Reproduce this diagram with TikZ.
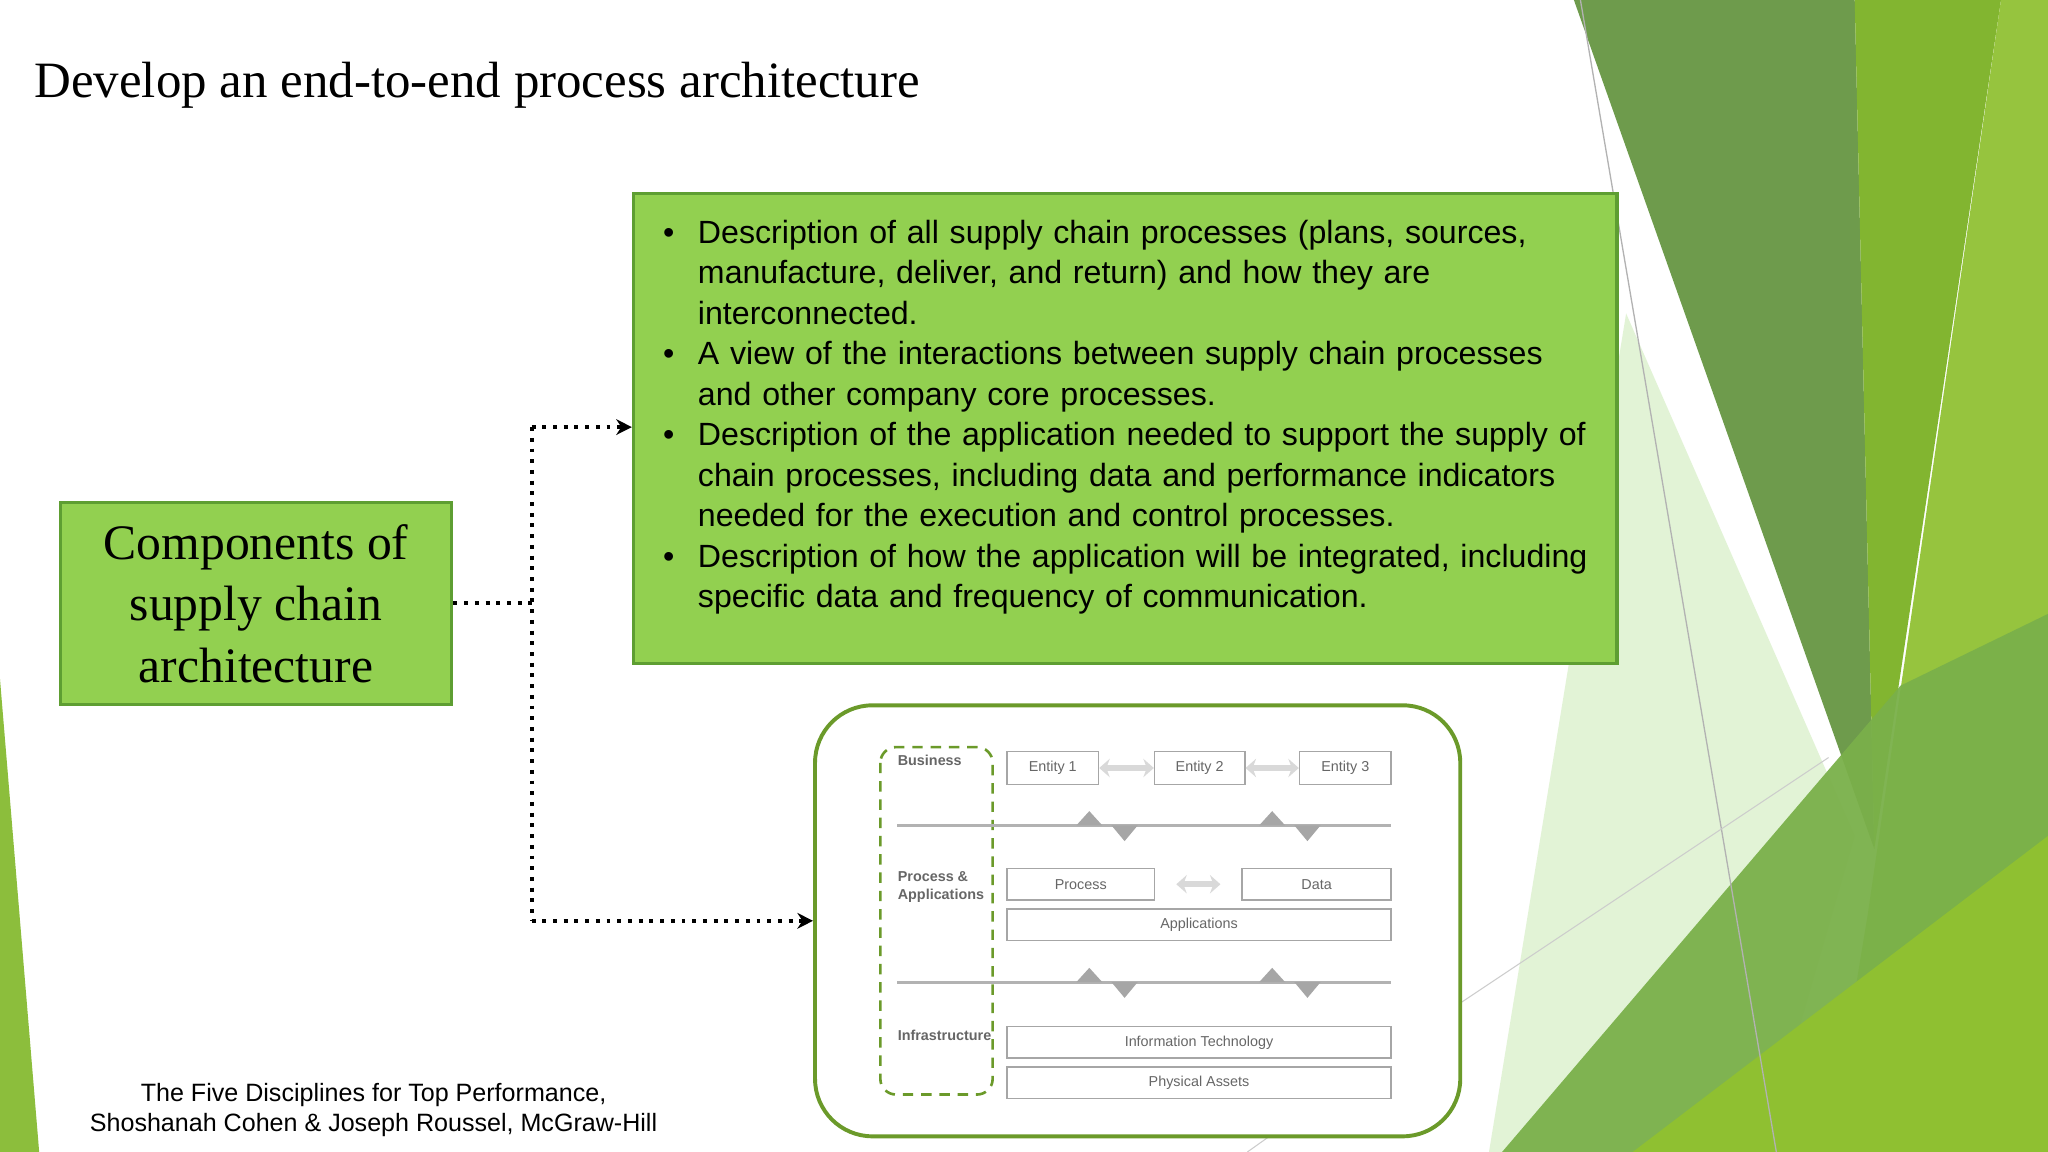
\documentclass[tikz,border=0pt]{standalone}
\usepackage{fontspec}
\setmainfont{Liberation Serif}
\newfontfamily\cs{Liberation Sans}
\usetikzlibrary{arrows.meta}
\definecolor{boxg}{HTML}{92D050}
\definecolor{boxb}{HTML}{5E9E32}
\definecolor{ring}{HTML}{6B9A2A}
\begin{document}
\begin{tikzpicture}[x=0.5pt,y=-0.5pt,
  dot/.style={black,line width=1.5pt,dash pattern=on 1.5pt off 2.6pt,-{Stealth[length=6pt,width=6pt]}},
  ebox/.style={draw=gray!70,line width=0.6pt,inner sep=0pt,font=\cs\fontsize{5.5}{6}\selectfont,text=gray!80!black},
  lab/.style={anchor=north west,align=left,inner sep=0pt,font=\cs\bfseries\fontsize{5.5}{7}\selectfont,text=gray!80!black},
  tri/.style={fill=gray!70,draw=none},
  gar/.style={gray!30,line width=2.2pt,{Stealth[length=4pt,width=7pt]}-{Stealth[length=4pt,width=7pt]}}]
\useasboundingbox (0,0) rectangle (1568,882);
\fill[white] (0,0) rectangle (1568,882);
% decoration
\fill[green!40!olive!20,opacity=0.8] (1245,240) -- (1420,640) -- (1350,882) -- (1140,882) -- cycle;
\fill[fill={rgb,255:red,110;green,155;blue,76}] (1205,0) -- (1420,0) -- (1435,650) -- cycle;
\fill[fill={rgb,255:red,130;green,181;blue,48}] (1420,0) -- (1532,0) -- (1435,650) -- cycle;
\fill[fill={rgb,255:red,150;green,196;blue,62}] (1532,0) -- (1568,0) -- (1568,882) -- (1400,882) -- (1430,700) -- cycle;
\fill[fill={rgb,255:red,122;green,176;blue,74},opacity=0.95] (1150,882) -- (1455,525) -- (1568,470) -- (1568,882) -- cycle;
\fill[fill={rgb,255:red,143;green,192;blue,49}] (1250,882) -- (1568,640) -- (1568,882) -- cycle;
\fill[fill={rgb,255:red,140;green,190;blue,60}] (0,520) -- (30,882) -- (0,882) -- cycle;
\draw[gray!60,line width=0.5pt] (1210,0) -- (1360,882);
\draw[gray!40,line width=0.4pt] (1070,800) -- (1400,580);
\draw[gray!40,line width=0.4pt] (955,882) -- (1000,850);
% title
\node[anchor=west,inner sep=0pt,font=\fontsize{19.5}{22}\selectfont] (title) at (26,65) {Develop an end-to-end process architecture};
% boxes
\node[draw=boxb,fill=boxg,line width=1.2pt,minimum width=150pt,minimum height=77.5pt,inner sep=0pt,align=center,font=\fontsize{19}{23.5}\selectfont] (comp) at (196,462) {Components of\\supply chain\\architecture};
\node[draw=boxb,fill=boxg,line width=1.2pt,minimum width=376.5pt,minimum height=180pt,inner sep=0pt] (desc) at (861.5,328) {};
\node[anchor=north west,inner sep=0pt,text width=363pt,font=\cs\fontsize{12.3}{15.5}\selectfont] (desctext) at (500,155) {%
\begin{list}{\textbullet}{\setlength\leftmargin{17pt}\setlength\labelwidth{8pt}\setlength\labelsep{9pt}\setlength\itemsep{0pt}\setlength\parsep{0pt}\setlength\topsep{0pt}}
\item Description of all supply chain processes (plans, sources, manufacture, deliver, and return) and how they are interconnected.
\item A view of the interactions between supply chain processes and other company core processes.
\item Description of the application needed to support the supply of chain processes, including data and performance indicators needed for the execution and control processes.
\item Description of how the application will be integrated, including specific data and frequency of communication.
\end{list}};
% diagram
\node[draw=ring,fill=white,line width=1.5pt,rounded corners=22pt,minimum width=247pt,minimum height=165pt,inner sep=0pt] (diag) at (871,705) {};
\draw[ring,line width=1pt,dash pattern=on 4pt off 3pt,rounded corners=6pt] (674,572) rectangle (760,838);
\node[lab] (lb) at (687,578) {Business};
\node[lab] (lp) at (687,667) {Process \&\\Applications};
\node[lab] (li) at (687,788) {Infrastructure};
\node[ebox,minimum width=35pt,minimum height=12.5pt] (e1) at (806,588) {Entity 1};
\node[ebox,minimum width=34.5pt,minimum height=12.5pt] (e2) at (918.5,588) {Entity 2};
\node[ebox,minimum width=35pt,minimum height=12.5pt] (e3) at (1030,588) {Entity 3};
\draw[gar] (e1) -- (e2);
\draw[gar] (e2) -- (e3);
\node[ebox,minimum width=56.5pt,minimum height=12pt] (pr) at (827.5,677) {Process};
\node[ebox,minimum width=57pt,minimum height=12pt] (da) at (1008,677) {Data};
\draw[gar,shorten <=8pt,shorten >=8pt] (pr) -- (da);
\node[ebox,minimum width=147pt,minimum height=12pt] (ap) at (918,708) {Applications};
\node[ebox,minimum width=147pt,minimum height=12pt] (it) at (918,798) {Information Technology};
\node[ebox,minimum width=147pt,minimum height=12pt] (pa) at (918,829) {Physical Assets};
\foreach \y in {632,752}{
  \draw[gray!60,line width=1pt] (687,\y) -- (1065,\y);
  \foreach \x in {834,974}{
    \fill[tri] (\x-10,\y) -- (\x,\y-11) -- (\x+10,\y) -- cycle;
    \fill[tri] (\x+17,\y) -- (\x+27,\y+12) -- (\x+37,\y) -- cycle;}}
% connectors
\coordinate (j) at (407,462);
\coordinate (jt) at (407,327);
\coordinate (jb) at (407,705);
\draw[black,line width=1.5pt,dash pattern=on 1.5pt off 2.6pt] (comp.east) -- (j);
\draw[black,line width=1.5pt,dash pattern=on 1.5pt off 2.6pt] (jt) -- (jb);
\draw[dot] (jt) -- (desc.west |- jt);
\draw[dot] (jb) -- (diag.west |- jb);
% citation
\node[align=center,inner sep=0pt,font=\cs\fontsize{9.6}{11.5}\selectfont] (cite) at (286,850) {The Five Disciplines for Top Performance,\\Shoshanah Cohen \& Joseph Roussel, McGraw-Hill};
\end{tikzpicture}
\end{document}
